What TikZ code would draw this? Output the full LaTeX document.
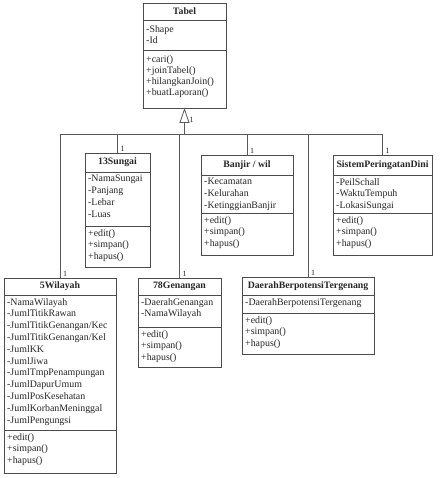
\documentclass[tikz,border=0pt]{standalone}
\usepackage{fontspec}
\setmainfont{Liberation Serif}
\usetikzlibrary{arrows.meta}
\newcommand\umlclass[9]{%
  \node[box, anchor=north west, minimum width={#3-#2}, minimum height={#7-#4}] (#1) at (#2,#4) {};
  \draw[sep] (#2,#5) -- (#3,#5);
  \draw[sep] (#2,#6) -- (#3,#6);
  \node[ttl] (#1-title) at ({(#2+#3)/2},{(#4+#5)/2}) {#8};
  \node[txt] (#1-attr) at (#2+3,#5+3) {#9};
}
\begin{document}
\begin{tikzpicture}[x=1pt,y=-1pt,
  box/.style={draw=black!70, line width=0.8pt, inner sep=0pt, outer sep=0pt, fill=white},
  sep/.style={draw=black!70, line width=0.8pt},
  link/.style={draw=black!65, line width=0.8pt},
  ttl/.style={font=\fontsize{9.8}{12}\selectfont\bfseries, text=black!85, inner sep=0pt},
  txt/.style={font=\fontsize{9.9}{11.8}\selectfont, text=black!85, align=left, inner sep=0pt, anchor=north west},
  txtt/.style={txt, font=\fontsize{9.9}{11}\selectfont},
  mult/.style={font=\fontsize{8}{9}\selectfont, text=black!85, inner sep=0pt}]
\useasboundingbox[fill=white] (0,0) rectangle (442,478);

% Tabel
\umlclass{tabel}{143}{226}{3}{20}{50}{108}{Tabel}{}
\node[txtt] (tabel-a) at (146,25) {-Shape\\-Id};
\node[txtt] (tabel-m) at (146,55) {+cari()\\+joinTabel()\\+hilangkanJoin()\\+buatLaporan()};

% classes
\umlclass{sungai}{85}{150}{153}{172}{226}{267}{13Sungai}{-NamaSungai\\-Panjang\\-Lebar\\-Luas}
\node[txt] (sungai-m) at (88,229) {+edit()\\+simpan()\\+hapus()};

\umlclass{banjir}{201}{293}{155}{175}{213}{255}{Banjir / wil}{-Kecamatan\\-Kelurahan\\-KetinggianBanjir}
\node[txt] (banjir-m) at (204,216) {+edit()\\+simpan()\\+hapus()};

\umlclass{sistem}{333}{432}{155}{175}{213}{255}{SistemPeringatanDini}{-PeilSchall\\-WaktuTempuh\\-LokasiSungai}
\node[txt] (sistem-m) at (336,216) {+edit()\\+simpan()\\+hapus()};

\umlclass{wil}{4}{116}{278}{295}{430}{473}{5Wilayah}{-NamaWilayah\\-JumlTitikRawan\\-JumlTitikGenangan/Kec\\-JumlTitikGenangan/Kel\\-JumlKK\\-JumlJiwa\\-JumlTmpPenampungan\\-JumlDapurUmum\\-JumlPosKesehatan\\-JumlKorbanMeninggal\\-JumlPengungsi}
\node[txt] (wil-m) at (7,433) {+edit()\\+simpan()\\+hapus()};

\umlclass{gen}{138}{221}{278}{295}{327}{367}{78Genangan}{-DaerahGenangan\\-NamaWilayah}
\node[txt] (gen-m) at (141,330) {+edit()\\+simpan()\\+hapus()};

\umlclass{daerah}{242}{374}{277}{295}{313}{354}{DaerahBerpotensiTergenang}{-DaerahBerpotensiTergenang}
\node[txt] (daerah-m) at (245,316) {+edit()\\+simpan()\\+hapus()};

% connectors
\coordinate (bus) at (0,134);
\draw[link] (wil.north |- bus) -- (sistem.north |- bus);
\draw[link, -{Triangle[open, length=15pt, width=10pt]}] (tabel.south |- bus) -- (tabel.south);
\foreach \c in {wil,sungai,gen,banjir,daerah,sistem}{
  \draw[link] (\c.north |- bus) -- (\c.north);
  \node[mult, anchor=south west] (m-\c) at ([xshift=3pt,yshift=1.5pt]\c.north) {1};
}
\node[mult, anchor=west] (m-tabel) at ([xshift=5pt,yshift=-12pt]tabel.south) {1};
\end{tikzpicture}
\end{document}
